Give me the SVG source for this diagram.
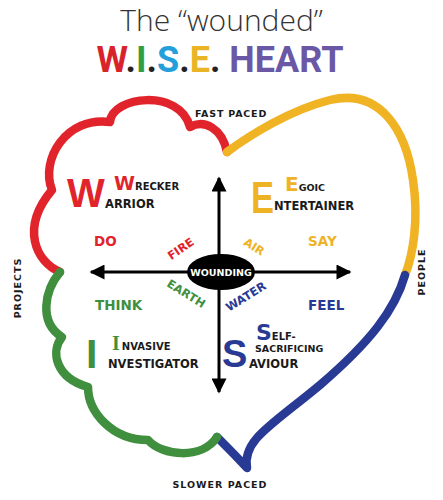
<svg xmlns="http://www.w3.org/2000/svg" width="443" height="500" viewBox="0 0 443 500">
<defs>
<marker id="ah" viewBox="0 0 10 10" refX="9" refY="5" markerWidth="6" markerHeight="5" markerUnits="strokeWidth" orient="auto">
<path d="M0,0 L10,5 L0,10 Z" fill="#000"/>
</marker>
</defs>
<style>
.c{font-family:"DejaVu Sans","Liberation Sans",sans-serif;font-weight:bold}
.big{font-family:"Liberation Sans","DejaVu Sans",sans-serif;font-weight:bold}
.blk{fill:#1a1a1a}
.red{fill:#e1242b}.yel{fill:#eeb325}.grn{fill:#3f8f3f}.nav{fill:#283a94}
.ol{fill:none;stroke-width:8.5;stroke-linecap:round;stroke-linejoin:round}
.ax{stroke:#000;stroke-width:3;fill:none}
</style>
<rect width="443" height="500" fill="#fff"/>
<g id="title">
<text x="221.5" y="30.5" font-size="30" text-anchor="middle" font-family="Open Sans, sans-serif" font-weight="300" fill="#333">The “wounded”</text>
<text x="220" y="71.5" font-size="36" text-anchor="middle" font-family="Roboto, Liberation Sans, sans-serif" font-weight="bold"><tspan fill="#d8232a">W</tspan><tspan fill="#222">.</tspan><tspan fill="#2f9e44">I</tspan><tspan fill="#222">.</tspan><tspan fill="#23a0dc">S</tspan><tspan fill="#222">.</tspan><tspan fill="#e9b425">E</tspan><tspan fill="#222">.</tspan><tspan fill="#6a58a6"> HEART</tspan></text>
</g>
<g id="heart">
<path class="ol" stroke="#e1242b" d="M60 272 C36 262 20 228 52 190 C40 160 66 116 110 122 C112 96 180 88 190 127 C204 119 222 128 227 152"/>
<path class="ol" stroke="#f0b323" d="M227 152 C250 135 290 110 330 100 C380 88 406 130 413 180 C419 220 413 255 405 275"/>
<path class="ol" stroke="#283a94" d="M405 275 C395 310 370 342 320 385 C272 425 242 440 247 468 C238 458 226 446 217 437"/>
<path class="ol" stroke="#3f8f3f" d="M60 272 C45 290 38 322 62 337 C50 352 56 378 88 387 C88 412 112 440 148 440 C162 456 202 460 217 437"/>
</g>
<g id="connectors">
<line class="ax" x1="219" y1="258" x2="219" y2="178" marker-end="url(#ah)"/>
<line class="ax" x1="219" y1="286" x2="219" y2="392" marker-end="url(#ah)"/>
<line class="ax" x1="188" y1="272" x2="91" y2="272" marker-end="url(#ah)"/>
<line class="ax" x1="254" y1="272" x2="350" y2="272" marker-end="url(#ah)"/>
</g>
<g id="wounding">
<ellipse cx="221" cy="272" rx="34" ry="18" fill="#000"/>
<text x="221" y="275.5" font-size="9.5" class="c" fill="#fff" text-anchor="middle">WOUNDING</text>
</g>
<g id="elements" font-size="11.5">
<text class="c red" text-anchor="middle" transform="translate(183,252) rotate(-35)">FIRE</text>
<text class="c yel" text-anchor="middle" transform="translate(252,250) rotate(32)">AIR</text>
<text class="c grn" text-anchor="middle" transform="translate(184,297) rotate(32)">EARTH</text>
<text class="c nav" text-anchor="middle" transform="translate(248,300) rotate(-32)">WATER</text>
</g>
<g id="quadrant-words" font-size="13.5">
<text class="c red" x="94" y="246">DO</text>
<text class="c yel" x="308" y="246">SAY</text>
<text class="c grn" x="95" y="310">THINK</text>
<text class="c nav" x="308" y="310">FEEL</text>
</g>
<g id="wrecker-warrior">
<text class="big red" x="67" y="207" font-size="40">W</text>
<text class="c" x="114" y="189.5"><tspan class="red" font-size="19">W</tspan><tspan class="blk" font-size="10">RECKER</tspan></text>
<text class="c blk" x="105" y="208" font-size="11.5">ARRIOR</text>
</g>
<g id="egoic-entertainer">
<text class="big yel" x="251" y="213" font-size="45" textLength="23" lengthAdjust="spacingAndGlyphs">E</text>
<text class="c" x="285" y="191"><tspan class="yel" font-size="20">E</tspan><tspan class="blk" font-size="9.5">GOIC</tspan></text>
<text class="c blk" x="274" y="210" font-size="11.5">NTERTAINER</text>
</g>
<g id="invasive-investigator">
<text class="big grn" x="86" y="368" font-size="41" font-family="Liberation Serif, serif">I</text>
<text class="c" x="112" y="350"><tspan class="grn" font-size="20" font-family="Liberation Serif, serif">I</tspan><tspan class="blk" font-size="10" dx="2">NVASIVE</tspan></text>
<text class="c blk" x="108" y="368" font-size="11.5">NVESTIGATOR</text>
</g>
<g id="self-sacrificing-saviour">
<text class="big nav" x="222" y="367" font-size="38">S</text>
<text class="c" x="256" y="340"><tspan class="nav" font-size="22">S</tspan><tspan class="blk" font-size="10">ELF-</tspan></text>
<text class="c blk" x="255" y="352" font-size="9.5">SACRIFICING</text>
<text class="c blk" x="249" y="368" font-size="11.5">AVIOUR</text>
</g>
<g id="axis-labels" font-size="9.5">
<text class="c blk" x="231" y="117" text-anchor="middle" font-weight="normal" letter-spacing="0.8">FAST PACED</text>
<text class="c blk" x="220" y="488" text-anchor="middle" font-weight="normal" letter-spacing="1">SLOWER PACED</text>
<text class="c blk" text-anchor="middle" font-weight="normal" letter-spacing="1" transform="translate(21,288) rotate(-90)">PROJECTS</text>
<text class="c blk" text-anchor="middle" font-weight="normal" letter-spacing="1" transform="translate(425,272) rotate(-90)">PEOPLE</text>
</g>
</svg>
